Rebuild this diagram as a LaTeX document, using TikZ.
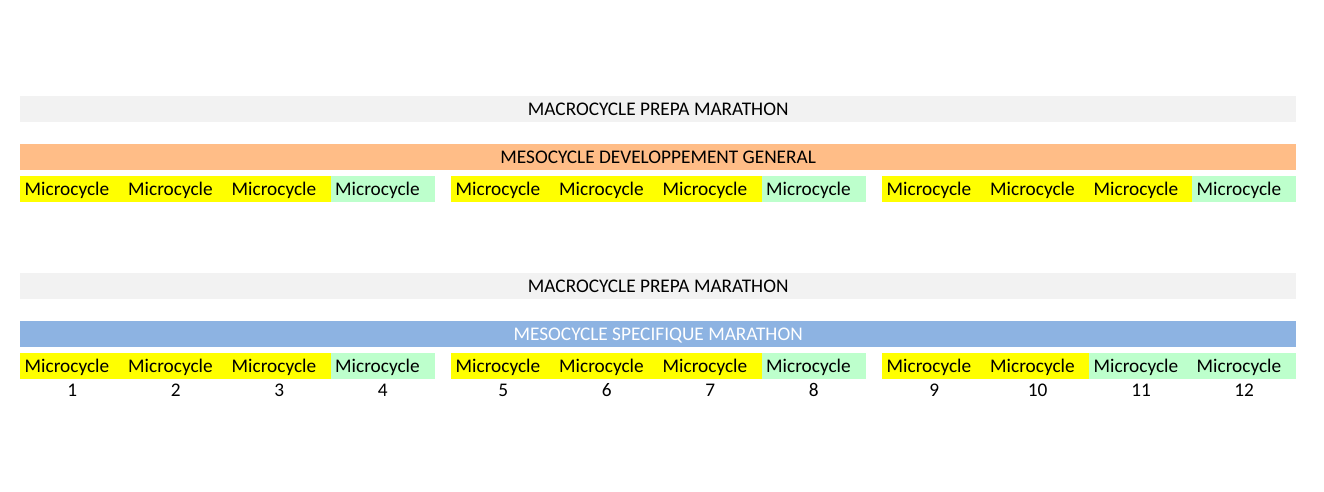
\documentclass[tikz,border=0pt]{standalone}
\usepackage{fontspec}
\setmainfont{Carlito}
\definecolor{barGray}{HTML}{F2F2F2}
\definecolor{barOrange}{HTML}{FFBD87}
\definecolor{barBlue}{HTML}{8DB3E2}
\definecolor{cellY}{HTML}{FFFF00}
\definecolor{cellG}{HTML}{BDFFCC}
\begin{document}
\begin{tikzpicture}[x=1pt,y=-1pt,
  every node/.style={font=\fontsize{19.3}{23}\selectfont},
  bar/.style={anchor=north west, minimum width=1276pt, minimum height=25.7pt, inner sep=0pt, text height=12.4pt, text depth=0pt},
  cell/.style={anchor=north west, minimum width=104pt, minimum height=25.7pt, inner xsep=4.5pt, inner ysep=0pt, text width=95pt, align=left, text height=12.4pt, text depth=0pt},
  num/.style={inner sep=0pt}]
\useasboundingbox[fill=white] (0,0) rectangle (1324,492);
% top group
\node[bar, fill=barGray] (macroA) at (20,96) {MACROCYCLE PREPA MARATHON};
\node[bar, fill=barOrange] (mesoA) at (20,144) {MESOCYCLE DEVELOPPEMENT GENERAL};
% bottom group
\node[bar, fill=barGray] (macroB) at (20,273) {MACROCYCLE PREPA MARATHON};
\node[bar, fill=barBlue, text=white] (mesoB) at (20,321) {MESOCYCLE SPECIFIQUE MARATHON};
\foreach \i/\x/\ca/\cb in {1/20/cellY/cellY, 2/123.5/cellY/cellY, 3/227/cellY/cellY, 4/330.5/cellG/cellG,
  5/451/cellY/cellY, 6/554.5/cellY/cellY, 7/658/cellY/cellY, 8/761.5/cellG/cellG,
  9/882/cellY/cellY, 10/985.5/cellY/cellY, 11/1089/cellY/cellG, 12/1192/cellG/cellG}{
  \node[cell, fill=\ca] (a\i) at (\x,176) {Microcycle};
  \node[cell, fill=\cb] (b\i) at (\x,353) {Microcycle};
  \node[num] (n\i) at ([yshift=-10.8pt]b\i.south) {\i};
}
\end{tikzpicture}
\end{document}
